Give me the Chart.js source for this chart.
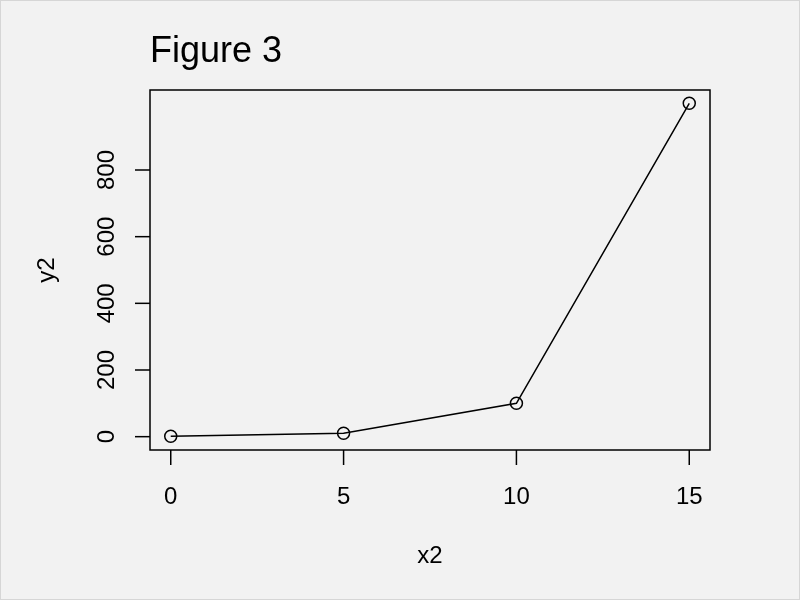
<!DOCTYPE html>
<html>
<head>
<meta charset="utf-8">
<script src="https://cdn.jsdelivr.net/npm/chart.js@4/dist/chart.umd.min.js"></script>
<style>
  body { margin: 0; background: #f2f2f2; }
  canvas { display: block; }
</style>
</head>
<body>
<canvas id="fig" width="800" height="600"></canvas>
<script>
// values
const xValues = [0, 5, 10, 15];
const yValues = [1, 10, 100, 1000];
const xTicks = [0, 5, 10, 15];
const yTicks = [0, 200, 400, 600, 800];
const titleText = "Figure 3";
const xLabel = "x2";
const yLabel = "y2";

const font = "'Liberation Sans', Arial, sans-serif";

// R-style box, ticks and labels drawn from the chart's own scales
const baseAxes = {
  id: "baseAxes",
  beforeDraw(chart) {
    const c = chart.ctx;
    c.save();
    c.fillStyle = "#f2f2f2";
    c.fillRect(0, 0, chart.width, chart.height);
    c.strokeStyle = "#d6d6d6";
    c.lineWidth = 1;
    c.strokeRect(0.5, 0.5, chart.width - 1, chart.height - 1);
    c.restore();
  },
  afterDraw(chart) {
    const c = chart.ctx;
    const a = chart.chartArea;
    const xs = chart.scales.x, ys = chart.scales.y;
    c.save();
    c.strokeStyle = "#000";
    c.fillStyle = "#000";
    c.lineWidth = 1.5;
    c.strokeRect(a.left, a.top, a.right - a.left, a.bottom - a.top);

    // x axis
    c.font = "24px " + font;
    c.textAlign = "center";
    c.textBaseline = "alphabetic";
    xTicks.forEach(v => {
      const px = xs.getPixelForValue(v);
      c.beginPath();
      c.moveTo(px, a.bottom);
      c.lineTo(px, a.bottom + 15);
      c.stroke();
      c.fillText(String(v), px, a.bottom + 54);
    });

    // y axis, labels turned like R's las=0
    yTicks.forEach(v => {
      const py = ys.getPixelForValue(v);
      c.beginPath();
      c.moveTo(a.left, py);
      c.lineTo(a.left - 15, py);
      c.stroke();
      c.save();
      c.translate(a.left - 36, py);
      c.rotate(-Math.PI / 2);
      c.fillText(String(v), 0, 0);
      c.restore();
    });

    // axis titles
    c.fillText(xLabel, (a.left + a.right) / 2, 563);
    c.save();
    c.translate(54, (a.top + a.bottom) / 2);
    c.rotate(-Math.PI / 2);
    c.fillText(yLabel, 0, 0);
    c.restore();

    // main title
    c.font = "36px " + font;
    c.textAlign = "left";
    c.fillText(titleText, a.left, 62);
    c.restore();
  }
};

new Chart(document.getElementById("fig"), {
  type: "line",
  data: {
    datasets: [{
      data: xValues.map((x, i) => ({ x: x, y: yValues[i] })),
      borderColor: "#000",
      borderWidth: 1.5,
      pointRadius: 6,
      pointBorderWidth: 1.5,
      pointBorderColor: "#000",
      pointBackgroundColor: "rgba(0,0,0,0)",
      tension: 0,
      fill: false
    }]
  },
  options: {
    responsive: false,
    devicePixelRatio: 1,
    animation: false,
    layout: { padding: { left: 150, top: 90, right: 90, bottom: 150 } },
    plugins: { legend: { display: false }, tooltip: { enabled: false }, title: { display: false } },
    scales: {
      x: { type: "linear", min: -0.6, max: 15.6, display: false },
      y: { type: "linear", min: -40, max: 1040, display: false }
    }
  },
  plugins: [baseAxes]
});
</script>
</body>
</html>
